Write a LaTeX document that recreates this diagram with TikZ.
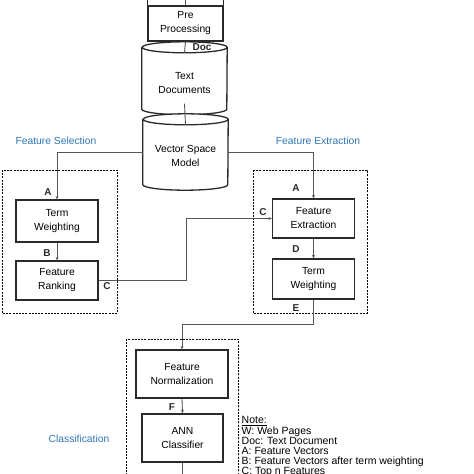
\documentclass[tikz,border=0pt]{standalone}
\usepackage{fontspec}
\setmainfont{Liberation Sans}
\usetikzlibrary{arrows.meta}
\definecolor{hdblue}{HTML}{2E75B6}
\definecolor{boxline}{HTML}{2A2A2A}
\definecolor{conn}{HTML}{555555}
\tikzset{
  procbox/.style={draw=boxline, line width=1.3pt, fill=white, align=center, inner sep=0pt,
    font=\fontsize{10.3}{14}\selectfont},
  cylbox/.style={inner sep=0pt},
  cyltext/.style={align=center, font=\fontsize{10.3}{14}\selectfont},
  conline/.style={draw=conn, line width=0.9pt},
  conarrow/.style={conline, -{Stealth[length=3.5pt,width=3pt]}},
  letterlbl/.style={font=\fontsize{10}{12}\selectfont\bfseries, text=boxline, inner sep=0pt},
  grouplbl/.style={font=\fontsize{10.3}{12}\selectfont, text=hdblue, inner sep=0pt},
  groupframe/.style={draw=black, line width=0.9pt, dash pattern=on 2pt off 1.2pt},
  cylshape/.style={draw=boxline, line width=1.3pt, fill=white}
}
\begin{document}
\begin{tikzpicture}[x=1pt,y=-1pt]
\clip (0,0) rectangle (474,474);
\useasboundingbox (0,0) rectangle (474,474);

% dashed group frames
\draw[groupframe] (2,170) rectangle (117,313);
\draw[groupframe] (253,170) rectangle (367,313);
\draw[groupframe] (126,339) rectangle (238,490);

% group labels
\node[grouplbl] (gsel) at (56,141) {Feature Selection};
\node[grouplbl] (gext) at (318,141) {Feature Extraction};
\node[grouplbl] (gcls) at (79,439) {Classification};

% Pre processing
\node[procbox, minimum width=75pt, minimum height=35pt] (pre) at (185.5,23.5) {Pre\\Processing};
\draw[boxline, line width=1.1pt] (pre.north west) -- ++(0,-8);
\draw[boxline, line width=1.1pt] (pre.north east) -- ++(0,-8);
\draw[conline] (pre.north) -- ++(0,-8);

% cylinders
\node[cylbox, minimum width=85pt, minimum height=50.5pt] (td) at (184.5,78.25) {};
\draw[cylshape] ([yshift=5.5pt]td.north west) -- ([yshift=-5.5pt]td.south west)
  arc[start angle=180, end angle=360, x radius=42.5pt, y radius=5.5pt]
  -- ([yshift=5.5pt]td.north east)
  arc[start angle=0, end angle=360, x radius=42.5pt, y radius=5.5pt];
\node[cyltext] (tdtext) at (184.5,83.5) {Text\\Documents};

\node[cylbox, minimum width=85pt, minimum height=54pt] (vsm) at (185.5,152) {};
\draw[cylshape] ([yshift=5.5pt]vsm.north west) -- ([yshift=-5.5pt]vsm.south west)
  arc[start angle=180, end angle=360, x radius=42.5pt, y radius=5.5pt]
  -- ([yshift=5.5pt]vsm.north east)
  arc[start angle=0, end angle=360, x radius=42.5pt, y radius=5.5pt];
\node[cyltext] (vsmtext) at (185.5,156) {Vector Space\\Model};

% process boxes
\node[procbox, minimum width=82pt, minimum height=42pt] (tw1) at (57,221) {Term\\Weighting};
\node[procbox, minimum width=82pt, minimum height=39pt] (fr) at (57,280.5) {Feature\\Ranking};
\node[procbox, minimum width=82pt, minimum height=39pt] (fe) at (313.5,218.5) {Feature\\Extraction};
\node[procbox, minimum width=82pt, minimum height=40pt] (tw2) at (313.5,279) {Term\\Weighting};
\node[procbox, minimum width=92pt, minimum height=48pt] (fn) at (182,374) {Feature\\Normalization};
\node[procbox, minimum width=81pt, minimum height=48pt] (ann) at (182.5,438) {ANN\\Classifier};

% connectors
\draw[conline] (pre.south) -- (td.north);
\draw[conline] (td.south) -- (vsm.north);
\draw[conarrow] (vsm.west) -| (tw1.north);
\draw[conarrow] (vsm.east) -| (fe.north);
\draw[conarrow] (tw1.south) -- (fr.north);
\draw[conarrow] (fr.east) -- ++(88,0) |- (fe.west);
\draw[conarrow] (fe.south) -- (tw2.north);
\draw[conarrow] (tw2.south) -- ++(0,25) -| (fn.north);
\draw[conarrow] (fn.south) -- (ann.north);
\draw[conline] (ann.south) -- ++(0,20);

% connector labels
\node[letterlbl] (ldoc) at (202,47) {Doc};
\node[letterlbl] (la1) at (48,192) {A};
\node[letterlbl] (lb) at (47,253) {B};
\node[letterlbl] (lc1) at (107,286) {C};
\node[letterlbl] (la2) at (296,188) {A};
\node[letterlbl] (lc2) at (263,212) {C};
\node[letterlbl] (ld) at (296,249) {D};
\node[letterlbl] (le) at (296,308) {E};
\node[letterlbl] (lf) at (172,407) {F};

% note
\node[anchor=north west, align=left, inner sep=0pt,
      font=\fontsize{10.5}{10}\selectfont] (note) at (241.5,416)
  {\underline{Note:}\\[1.5pt]
   W: Web Pages\\
   Doc: Text Document\\
   A: Feature Vectors\\
   B: Feature Vectors after term weighting\\
   C: Top n Features};
\end{tikzpicture}
\end{document}
